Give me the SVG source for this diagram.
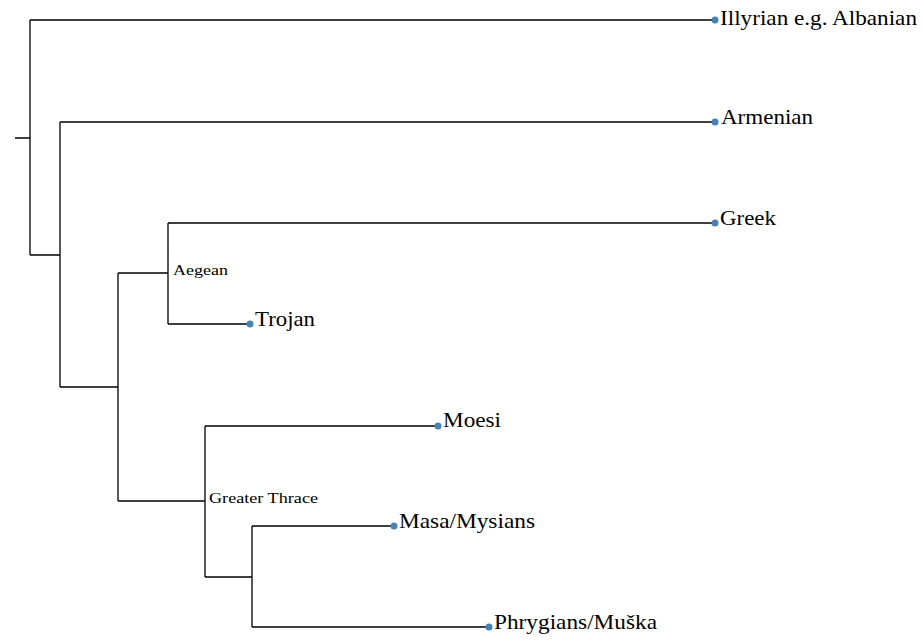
<svg xmlns="http://www.w3.org/2000/svg" width="923" height="643" viewBox="0 0 923 643">
<style>
.l{fill:none;stroke:#000;stroke-width:1.3}
.d{fill:steelblue}
.t{font-family:"Liberation Serif","Times New Roman",serif;font-size:21px;fill:#000}
.s{font-family:"Liberation Serif","Times New Roman",serif;font-size:15px;fill:#000}
</style>
<rect width="923" height="643" fill="#fff"/>
<g id="connectors">
<path class="l" d="M15,138H30M30,20V255M30,20H715M30,255H60M60,122V387M60,122H715M60,387H118M118,273V501M118,273H168M168,223V324M168,223H715M168,324H250M118,501H205M205,426V577M205,426H438M205,577H252M252,526V627M252,526H394M252,627H489"/>
</g>
<g id="aegean"><text class="s" x="173" y="275" textLength="55" lengthAdjust="spacingAndGlyphs">Aegean</text></g>
<g id="thrace"><text class="s" x="209" y="503" textLength="109" lengthAdjust="spacingAndGlyphs">Greater Thrace</text></g>
<g id="illyrian"><circle class="d" cx="715" cy="20" r="3.5"/><text class="t" x="720" y="25" textLength="197" lengthAdjust="spacingAndGlyphs">Illyrian e.g. Albanian</text></g>
<g id="armenian"><circle class="d" cx="715" cy="122" r="3.5"/><text class="t" x="721" y="124" textLength="92" lengthAdjust="spacingAndGlyphs">Armenian</text></g>
<g id="greek"><circle class="d" cx="715" cy="223" r="3.5"/><text class="t" x="720" y="225" textLength="56" lengthAdjust="spacingAndGlyphs">Greek</text></g>
<g id="trojan"><circle class="d" cx="250" cy="324" r="3.5"/><text class="t" x="255" y="326" textLength="60" lengthAdjust="spacingAndGlyphs">Trojan</text></g>
<g id="moesi"><circle class="d" cx="438" cy="426" r="3.5"/><text class="t" x="443" y="427" textLength="58" lengthAdjust="spacingAndGlyphs">Moesi</text></g>
<g id="masa"><circle class="d" cx="394" cy="526" r="3.5"/><text class="t" x="399" y="528" textLength="136" lengthAdjust="spacingAndGlyphs">Masa/Mysians</text></g>
<g id="phrygians"><circle class="d" cx="489" cy="627" r="3.5"/><text class="t" x="494" y="629" textLength="163" lengthAdjust="spacingAndGlyphs">Phrygians/Muška</text></g>
</svg>
